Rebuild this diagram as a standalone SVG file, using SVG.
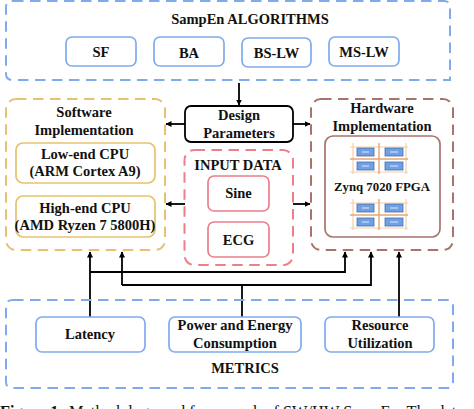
<svg xmlns="http://www.w3.org/2000/svg" width="474" height="409" viewBox="0 0 474 409">
<style>
text{font-family:"Liberation Serif","Times New Roman",serif;font-weight:bold;fill:#111;text-anchor:middle;font-size:14.5px}
.cap{font-weight:normal;text-anchor:start;font-size:16.4px}
.d{fill:none;stroke-width:2;stroke-dasharray:10.5 6.5}
.b{fill:#fff;stroke-width:1.7}
.blue{stroke:#7fabee}.yel{stroke:#e6c26e}.red{stroke:#ec7f88}.brn{stroke:#a9736c}
.c{fill:none;stroke:#000;stroke-width:1.8}
.g{stroke:#f3cfa8;stroke-width:1.2;fill:none}
.g2{stroke:#e2a772;stroke-width:1.4;fill:none}
.chip{fill:#6f9fe6;stroke:#4d6f9f;stroke-width:.8}
.lbl{fill:#a9c6f0}
</style>
<defs>
<marker id="a" markerWidth="7" markerHeight="7" refX="5.5" refY="3" orient="auto" markerUnits="userSpaceOnUse"><path d="M0 0L6 3L0 6z" fill="#000"/></marker>
<g id="fpga">
<path class="g" d="M353 0V31M406 0V31M350 4H408M350 29H408"/>
<path class="g2" d="M379 0V31M350 16H408"/>
<rect class="chip" x="357" y="5" width="17" height="8"/><rect class="lbl" x="362" y="8" width="7" height="2"/>
<rect class="chip" x="385" y="5" width="18" height="8"/><rect class="lbl" x="390" y="8" width="8" height="2"/>
<rect class="chip" x="357" y="19" width="17" height="8"/><rect class="lbl" x="362" y="22" width="7" height="2"/>
<rect class="chip" x="385" y="19" width="18" height="8"/><rect class="lbl" x="390" y="22" width="8" height="2"/>
</g>
</defs>
<rect width="474" height="409" fill="#fff"/>
<g id="connectors">
<path class="c" marker-end="url(#a)" d="M239 83V105"/>
<path class="c" marker-end="url(#a)" d="M185 124H166"/>
<path class="c" marker-end="url(#a)" d="M293 124H310"/>
<path class="c" marker-end="url(#a)" d="M185 204H166"/>
<path class="c" marker-end="url(#a)" d="M293 204H310"/>
<path class="c" marker-end="url(#a)" d="M90 317V252"/>
<path class="c" marker-end="url(#a)" d="M90 272H345V252"/>
<path class="c" marker-end="url(#a)" d="M122 285V252"/>
<path class="c" marker-end="url(#a)" d="M122 285H371V252"/>
<path class="c" d="M242 285V317"/>
<path class="c" marker-end="url(#a)" d="M399 317V252"/>
</g>
<g id="algorithms">
<path class="d blue" d="M13 1H444Q450 1 450 7V80H13Q6 80 6 74V7Q6 1 13 1z"/>
<text x="250" y="24">SampEn ALGORITHMS</text>
</g>
<g id="sf"><rect class="b blue" x="66" y="37" width="70" height="29" rx="6"/><text x="101" y="57">SF</text></g>
<g id="ba"><rect class="b blue" x="154" y="37" width="70" height="29" rx="6"/><text x="189" y="58">BA</text></g>
<g id="bs-lw"><rect class="b blue" x="242" y="38" width="69" height="29" rx="6"/><text x="276.500" y="58">BS-LW</text></g>
<g id="ms-lw"><rect class="b blue" x="329" y="37" width="70" height="29" rx="6"/><text x="364" y="57">MS-LW</text></g>
<g id="design"><rect x="185" y="106" width="108" height="36" rx="6" fill="#fff" stroke="#000" stroke-width="1.8"/><text x="239" y="120">Design</text><text x="239" y="138">Parameters</text></g>
<g id="software">
<rect class="d yel" x="6" y="99" width="159" height="151" rx="10"/>
<text x="84" y="117">Software</text><text x="84" y="135">Implementation</text>
</g>
<g id="low-end"><rect class="b yel" x="16" y="143" width="139" height="40" rx="7"/><text x="85" y="159">Low-end CPU</text><text x="85" y="176">(ARM Cortex A9)</text></g>
<g id="high-end"><rect class="b yel" x="16" y="196" width="139" height="41" rx="7"/><text x="85" y="213">High-end CPU</text><text x="85" y="230">(AMD Ryzen 7 5800H)</text></g>
<g id="input">
<rect class="d red" x="184.500" y="150" width="108.500" height="115" rx="10"/>
<text x="238" y="170">INPUT DATA</text>
</g>
<g id="sine"><rect class="b red" x="208" y="176" width="61" height="35" rx="6"/><text x="238.500" y="198">Sine</text></g>
<g id="ecg"><rect class="b red" x="208" y="222" width="61" height="35" rx="6"/><text x="238.500" y="245">ECG</text></g>
<g id="hardware">
<rect class="d brn" x="311" y="99" width="142" height="151" rx="10"/>
<text x="382" y="113">Hardware</text><text x="382" y="131">Implementation</text>
</g>
<g id="fpga-box"><rect class="b brn" x="325" y="136" width="115" height="101" rx="8"/>
<use href="#fpga" y="143"/>
<use href="#fpga" y="199"/>
<text x="382" y="191" style="font-size:12.800px">Zynq 7020 FPGA</text>
</g>
<g id="metrics">
<path class="d blue" d="M13 300H447Q453 300 453 306V382Q453 388 447 388H13Q6 388 6 382V306Q6 300 13 300z"/>
<text x="245" y="373">METRICS</text>
</g>
<g id="latency"><rect class="b blue" x="36" y="317" width="109" height="35" rx="6"/><text x="90" y="339">Latency</text></g>
<g id="power"><rect class="b blue" x="169" y="317" width="132" height="35" rx="6"/><text x="235" y="330">Power and Energy</text><text x="235" y="348">Consumption</text></g>
<g id="resource"><rect class="b blue" x="325" y="317" width="109" height="35" rx="6"/><text x="380" y="330">Resource</text><text x="380" y="348">Utilization</text></g>
<g id="caption"><text class="cap" x="0" y="416.500"><tspan font-weight="bold">Figure 1:</tspan><tspan x="69">Methodology and framework of SW/HW SampEn. The data</tspan></text></g>
</svg>
